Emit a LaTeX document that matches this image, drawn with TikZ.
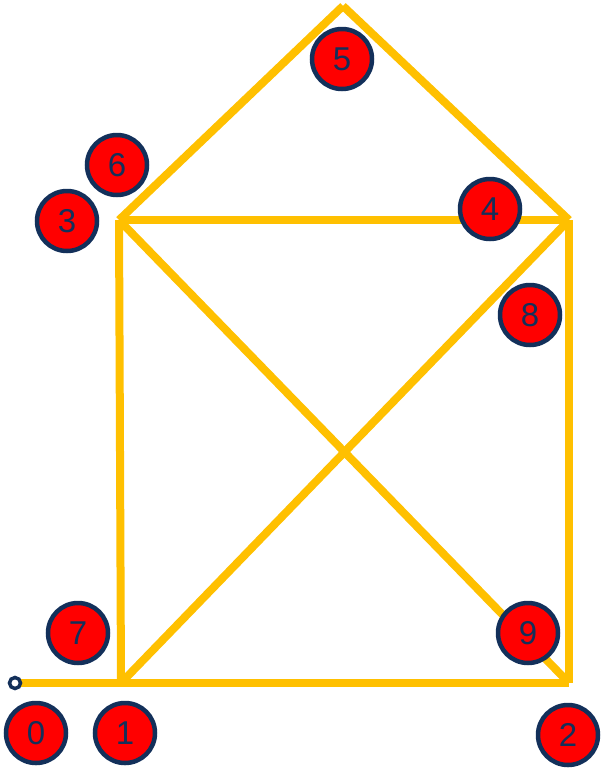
\documentclass[tikz,border=0pt]{standalone}
\usepackage{fontspec}
\setmainfont{Liberation Sans}
\usepackage{xcolor}
\usepackage{tikz}
\usetikzlibrary{positioning}
\definecolor{edgeyellow}{HTML}{FFC000}
\definecolor{markred}{HTML}{FF0000}
\definecolor{darknavy}{HTML}{13305A}

\begin{document}
\begin{tikzpicture}[
    x=1pt, y=-1pt,
    edge/.style={draw=edgeyellow, line width=8pt, line cap=butt},
    marker/.style={circle, draw=darknavy, line width=4.5pt, fill=markred, minimum size=60pt, inner sep=0pt, text=darknavy, font=\fontsize{33}{33}\selectfont},
    start/.style={circle, draw=darknavy, line width=3.5pt, fill=white, minimum size=11pt, inner sep=0pt}
]
\useasboundingbox (0,0) rectangle (605,777);

% corners of the house
\coordinate (c0) at (15,683);
\coordinate (c1) at (121,683);
\coordinate (c2) at (569,683);
\coordinate (c3) at (119,220);
\coordinate (c4) at (569,220);
\coordinate (c5) at (343,6);

\draw[edge] (c0) -- (c1);
\draw[edge] (c1) -- (c2);
\draw[edge] (c1) -- (c3);
\draw[edge] (c2) -- (c4);
\draw[edge] (c3) -- (c4);
\draw[edge] (c1) -- (c4);
\draw[edge] (c3) -- (c2);
\draw[edge] (c3) -- (c5);
\draw[edge] (c5) -- (c4);

\node[start] (s0) at (c0) {};

% numbered markers
\node[marker] (m0) at (36,733) {0};
\node[marker] (m1) at (125,733) {1};
\node[marker] (m2) at (568,735) {2};
\node[marker] (m3) at (67,221) {3};
\node[marker] (m4) at (490,209) {4};
\node[marker] (m5) at (342,59) {5};
\node[marker] (m6) at (117,165) {6};
\node[marker] (m7) at (78,633) {7};
\node[marker] (m8) at (530,315) {8};
\node[marker] (m9) at (528,633) {9};

\end{tikzpicture}
\end{document}
